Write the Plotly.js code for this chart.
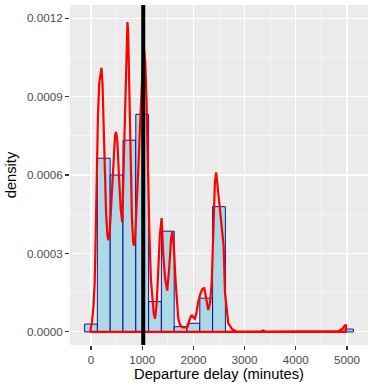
<!DOCTYPE html>
<html>
<head>
<meta charset="utf-8">
<script src="https://cdn.plot.ly/plotly-3.0.1.min.js"></script>
<style>html,body{margin:0;padding:0;background:#fff}#chart{width:375px;height:391px}</style>
</head>
<body>
<div id="chart"></div>
<script>
// Histogram (binwidth 250, centred on multiples of 250), density scale
const binCenters = [0,250,500,750,1000,1250,1500,1750,2000,2250,2500,2750,3000,3250,3500,3750,4000,4250,4500,4750,5000];
const binDensity = [0.00003,0.000664,0.0006,0.000733,0.000832,0.000116,0.000385,0.00002,0.000033,0.000129,0.000479,0,0,0,0,0,0,0,0,0,0.000011];
const binWidth = 250;

// Kernel density curve
const densX = [-15,20,50,72,90,110,135,160,190,205,225,245,270,295,320,340,365,400,440,470,490,515,545,580,610,635,660,680,700,712,725,745,775,800,825,843,865,900,930,960,990,1020,1038,1060,1085,1113,1140,1170,1197,1225,1250,1280,1310,1345,1380,1410,1450,1490,1530,1565,1590,1620,1650,1674,1705,1740,1790,1850,1890,1930,1966,2000,2031,2065,2096,2140,2180,2213,2250,2291,2325,2357,2389,2420,2445,2475,2520,2560,2590,2617,2650,2682,2760,2850,3300,3360,3420,4800,4830,4900,4960,4980];
const densY = [0,0.00004,0.0001,0.000186,0.00035,0.0006,0.00082,0.00095,0.001005,0.00101,0.00095,0.0008,0.0006,0.00045,0.00037,0.00035,0.00038,0.0005,0.00068,0.00075,0.000765,0.00073,0.0006,0.00047,0.00042,0.0006,0.0008,0.00095,0.00113,0.001185,0.00115,0.00095,0.0006,0.00043,0.00034,0.00033,0.00037,0.0005,0.00065,0.0008,0.00095,0.00106,0.00108,0.00103,0.00088,0.0006,0.00038,0.0002,0.00012,0.00007,0.00005,0.0001,0.00022,0.00037,0.000435,0.0003,0.0002,0.000158,0.00025,0.00036,0.000384,0.00032,0.0002,0.00012,0.00005,0.000027,0.000017,0.000017,0.00002,0.00005,0.000065,0.000055,0.00005,0.00008,0.000116,0.000148,0.000165,0.000167,0.00013,0.000084,0.00011,0.000186,0.00038,0.00057,0.00061,0.00055,0.00047,0.00039,0.00033,0.00015,0.00008,0.000033,0.00001,0.000001,0.000001,0.000006,0.000001,0.000001,0.000003,0.00001,0.000025,0.000025];

// Mean departure delay (vertical line)
const meanDelay = [1020];

// Axis ticks
const xTickVals = [0,1000,2000,3000,4000,5000];
const xTickText = ["0","1000","2000","3000","4000","5000"];
const yTickVals = [0,0.0003,0.0006,0.0009,0.0012];
const yTickText = ["0.0000","0.0003","0.0006","0.0009","0.0012"];

// density outline closed along baseline (like geom_density)
const polyX = densX.concat([densX[densX.length-1], densX[0]]);
const polyY = densY.concat([0, 0]);

const traces = [
  {
    type: 'bar', x: binCenters, y: binDensity, width: binCenters.map(() => binWidth),
    marker: {color: '#ADD8E6', line: {color: '#000080', width: 0.9}},
    hoverinfo: 'skip'
  },
  {
    type: 'scatter', mode: 'lines', x: polyX, y: polyY,
    line: {color: '#FF0000', width: 2.2, shape: 'linear'},
    hoverinfo: 'skip'
  },
  {
    type: 'scatter', mode: 'lines',
    x: [meanDelay[0], meanDelay[0]], y: [-1, 1],
    line: {color: '#000000', width: 4},
    hoverinfo: 'skip'
  }
];

const fontFam = '"Liberation Sans", Arial, sans-serif';
const layout = {
  width: 375, height: 391,
  margin: {l: 70, r: 7, t: 5, b: 46},
  paper_bgcolor: '#FFFFFF',
  plot_bgcolor: '#EBEBEB',
  showlegend: false,
  bargap: 0,
  font: {family: fontFam, color: '#000000'},
  xaxis: {
    range: [-410, 5410],
    tickvals: xTickVals, ticktext: xTickText,
    ticks: 'outside', ticklen: 4, tickwidth: 1.07, tickcolor: '#333333',
    tickfont: {family: fontFam, size: 11.7, color: '#4D4D4D'},
    showgrid: true, gridcolor: '#FFFFFF', gridwidth: 1.07,
    minor: {dtick: 500, tick0: 500, showgrid: true, gridcolor: '#FFFFFF', gridwidth: 0.53, ticks: ''},
    zeroline: false, showline: false,
    title: {text: 'Departure delay (minutes)', font: {family: fontFam, size: 14.7, color: '#000000'}, standoff: 3},
    automargin: false, fixedrange: true
  },
  yaxis: {
    range: [-0.00005, 0.00125],
    tickvals: yTickVals, ticktext: yTickText,
    ticks: 'outside', ticklen: 4, tickwidth: 1.07, tickcolor: '#333333',
    tickfont: {family: fontFam, size: 11.7, color: '#4D4D4D'},
    showgrid: true, gridcolor: '#FFFFFF', gridwidth: 1.07,
    minor: {dtick: 0.0003, tick0: 0.00015, showgrid: true, gridcolor: '#FFFFFF', gridwidth: 0.53, ticks: ''},
    zeroline: false, showline: false,
    title: {text: 'density', font: {family: fontFam, size: 14.7, color: '#000000'}, standoff: 6},
    automargin: false, fixedrange: true
  }
};

Plotly.newPlot('chart', traces, layout, {staticPlot: true, displayModeBar: false});
</script>
</body>
</html>
